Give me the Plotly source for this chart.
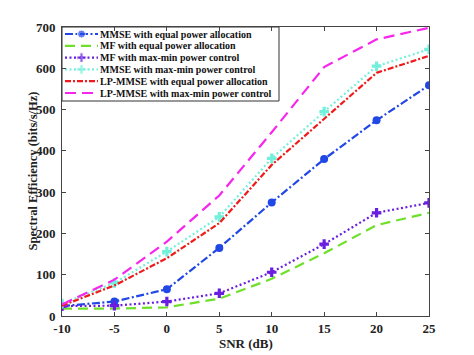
import plotly.graph_objects as go

snr = [-10, -5, 0, 5, 10, 15, 20, 25]
mmse_equal = [24, 35, 65, 165, 275, 380, 474, 559]
mf_equal = [18, 18, 21, 42, 90, 152, 220, 250]
mf_maxmin = [24, 25, 35, 55, 106, 174, 250, 274]
mmse_maxmin = [30, 80, 156, 240, 382, 495, 605, 646]
lpmmse_equal = [25, 74, 140, 225, 366, 478, 589, 630]
lpmmse_maxmin = [28, 88, 180, 292, 445, 603, 670, 698]

x_ticks = [-10, -5, 0, 5, 10, 15, 20, 25]
y_ticks = [0, 100, 200, 300, 400, 500, 600, 700]

FONT = "Liberation Serif, Times New Roman, serif"

series = [
    ("MMSE with equal power allocation", mmse_equal, "#2147e6", "8px,2.5px,2px,2.5px", "circle", 8),
    ("MF with equal power allocation", mf_equal, "#6ee02a", "10px,6px", None, 0),
    ("MF with max-min power control", mf_maxmin, "#6a1fe0", "2px,2.5px", "cross", 8),
    ("MMSE with max-min power control", mmse_maxmin, "#72f0dc", "2px,2.5px", "cross", 8),
    ("LP-MMSE with equal power allocation", lpmmse_equal, "#f01a1a", "6px,2px,2px,2px", None, 0),
    ("LP-MMSE with max-min power control", lpmmse_maxmin, "#f726ec", "11px,6px", None, 0),
]

# The page body has an 8px default margin, so the figure is drawn 8px in from
# the window's top-left corner; size and place everything relative to that.
OFF = 8
WIN_W, WIN_H = 474, 355
W, H = WIN_W - OFF, WIN_H - OFF
ML, MR, MT, MB = 62 - OFF, 45, 27 - OFF, 39
PW, PH = W - ML - MR, H - MT - MB

fig = go.Figure()
for name, vals, color, dash, sym, msize in series:
    mode = "lines+markers" if sym else "lines"
    fig.add_trace(go.Scatter(
        x=snr, y=vals, name=name, mode=mode, showlegend=False,
        line=dict(color=color, width=2.2, dash=dash),
        marker=dict(symbol=sym or "circle", size=msize, color=color) if sym else None,
    ))

# custom compact legend (pixel coordinates inside plot area, y from top)
LEG_W, LEG_H = 217, 74
ROW0, ROW_STEP = 7, 11.8
fig.add_shape(type="rect", xref="x2", yref="y2", x0=0, x1=LEG_W, y0=0, y1=LEG_H,
              fillcolor="white", line=dict(color="#333", width=1), layer="below")
for i, (name, vals, color, dash, sym, msize) in enumerate(series):
    yy = ROW0 + i * ROW_STEP
    fig.add_trace(go.Scatter(
        x=[3, 19.5, 36], y=[yy, yy, yy], xaxis="x2", yaxis="y2",
        mode="lines+markers" if sym else "lines", showlegend=False, hoverinfo="skip",
        line=dict(color=color, width=2.2, dash=dash),
        marker=dict(symbol=sym or "circle", size=[0, msize, 0], color=color) if sym else None,
    ))
    fig.add_annotation(x=36, y=yy, xref="x2", yref="y2", text=name, showarrow=False,
                       xanchor="left", yanchor="middle",
                       font=dict(family=FONT, size=10, color="#111", weight="bold"))

# axis titles (paper coordinates; window pixel targets minus the body offset)
fig.add_annotation(x=0.5, y=(H - MB - (343 - OFF)) / PH, xref="paper", yref="paper",
                   text="SNR (dB)", showarrow=False, xanchor="center", yanchor="middle",
                   font=dict(family=FONT, size=13, color="#222", weight="bold"))
fig.add_annotation(x=((32 - OFF) - ML) / PW, y=0.5, xref="paper", yref="paper",
                   text="Spectral Efficiency (bits/s/Hz)",
                   showarrow=False, textangle=-90, xanchor="center", yanchor="middle",
                   font=dict(family=FONT, size=12.5, color="#222", weight="bold"))

fig.update_layout(
    width=W, height=H,
    margin=dict(l=ML, r=MR, t=MT, b=MB, autoexpand=False),
    paper_bgcolor="white", plot_bgcolor="white",
    font=dict(family=FONT, size=13, color="#222", weight="bold"),
    showlegend=False,
    xaxis2=dict(overlaying="x", range=[0, PW], visible=False, fixedrange=True),
    yaxis2=dict(overlaying="y", range=[PH, 0], visible=False, fixedrange=True),
    xaxis=dict(
        range=[-10, 25], tickvals=x_ticks, ticktext=[str(v) for v in x_ticks],
        ticks="inside", ticklen=4, tickcolor="#444", ticklabelstandoff=0,
        showline=True, linecolor="#444", linewidth=1, mirror="ticks",
        showgrid=False, zeroline=False, automargin=False,
        tickfont=dict(family=FONT, size=13, color="#222", weight="bold"),
    ),
    yaxis=dict(
        range=[0, 700], tickvals=y_ticks, ticktext=[str(v) for v in y_ticks],
        ticks="inside", ticklen=4, tickcolor="#444", ticklabelstandoff=3,
        showline=True, linecolor="#444", linewidth=1, mirror="ticks",
        showgrid=False, zeroline=False, automargin=False,
        tickfont=dict(family=FONT, size=13, color="#222", weight="bold"),
    ),
)

fig.write_html("out.html")
